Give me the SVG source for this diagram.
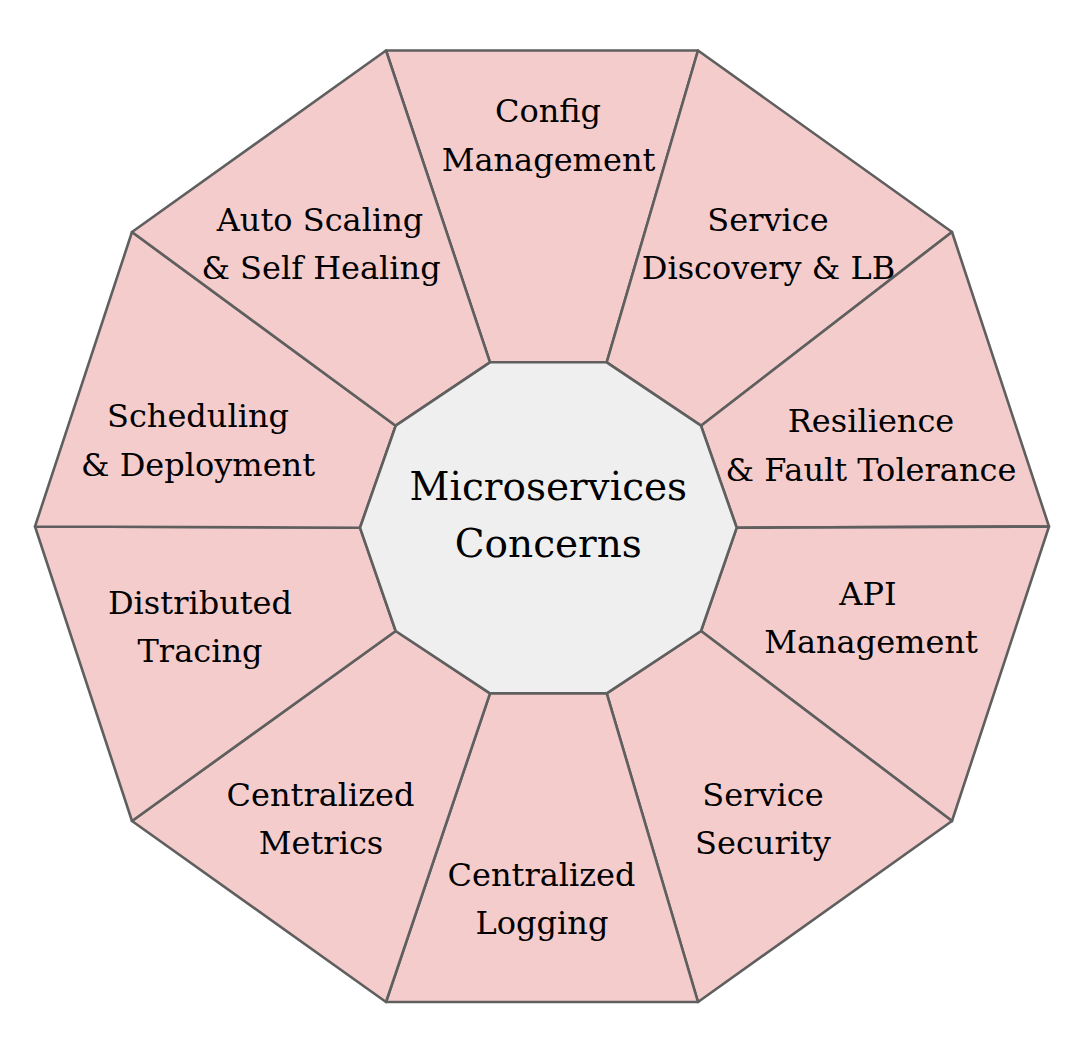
<svg xmlns="http://www.w3.org/2000/svg" width="1086" height="1044" viewBox="0 0 1086 1044">
<style>
.seg{fill:#f4cccc;stroke:#5f5f5f;stroke-width:2.6;stroke-linejoin:round}
.core{fill:#efefef;stroke:#5f5f5f;stroke-width:2.6;stroke-linejoin:round}
text{font-family:"DejaVu Serif","Liberation Serif",serif;fill:#000;text-anchor:middle}
.lb{font-size:32px}
.ct{font-size:39px}
</style>
<rect width="1086" height="1044" fill="#ffffff"/>
<g id="config-management">
<polygon class="seg" points="386,50.5 698,50.5 606.7,362.3 490,362.3"/>
<text class="lb" x="548" y="122">Config</text>
<text class="lb" x="548.5" y="170.5">Management</text>
</g>
<g id="service-discovery">
<polygon class="seg" points="698,50.5 952,232 701,425.7 606.7,362.3"/>
<text class="lb" x="768" y="231">Service</text>
<text class="lb" x="768.5" y="279">Discovery &amp; LB</text>
</g>
<g id="resilience">
<polygon class="seg" points="952,232 1049,526.5 736.7,527.7 701,425.7"/>
<text class="lb" x="871" y="432">Resilience</text>
<text class="lb" x="871" y="481">&amp; Fault Tolerance</text>
</g>
<g id="api-management">
<polygon class="seg" points="1049,526.5 952,821 701,631 736.7,527.7"/>
<text class="lb" x="868" y="605">API</text>
<text class="lb" x="871" y="653">Management</text>
</g>
<g id="service-security">
<polygon class="seg" points="952,821 698,1002 606.7,693.3 701,631"/>
<text class="lb" x="763" y="806">Service</text>
<text class="lb" x="763" y="854">Security</text>
</g>
<g id="centralized-logging">
<polygon class="seg" points="698,1002 386,1002 490,693.3 606.7,693.3"/>
<text class="lb" x="541.5" y="886">Centralized</text>
<text class="lb" x="542" y="934">Logging</text>
</g>
<g id="centralized-metrics">
<polygon class="seg" points="386,1002 132,821 395.7,631 490,693.3"/>
<text class="lb" x="320.5" y="806">Centralized</text>
<text class="lb" x="321" y="854">Metrics</text>
</g>
<g id="distributed-tracing">
<polygon class="seg" points="132,821 35,526.5 360,527.7 395.7,631"/>
<text class="lb" x="200" y="614">Distributed</text>
<text class="lb" x="200" y="662">Tracing</text>
</g>
<g id="scheduling-deployment">
<polygon class="seg" points="35,526.5 132,232 395.7,425.7 360,527.7"/>
<text class="lb" x="198" y="427">Scheduling</text>
<text class="lb" x="198" y="476">&amp; Deployment</text>
</g>
<g id="auto-scaling">
<polygon class="seg" points="132,232 386,50.5 490,362.3 395.7,425.7"/>
<text class="lb" x="320" y="231">Auto Scaling</text>
<text class="lb" x="321" y="279">&amp; Self Healing</text>
</g>
<g id="microservices-concerns">
<polygon class="core" points="490,362.3 606.7,362.3 701,425.7 736.7,527.7 701,631 606.7,693.3 490,693.3 395.7,631 360,527.7 395.7,425.7"/>
<text class="ct" x="548.3" y="499.5">Microservices</text>
<text class="ct" x="548.3" y="557">Concerns</text>
</g>
</svg>
